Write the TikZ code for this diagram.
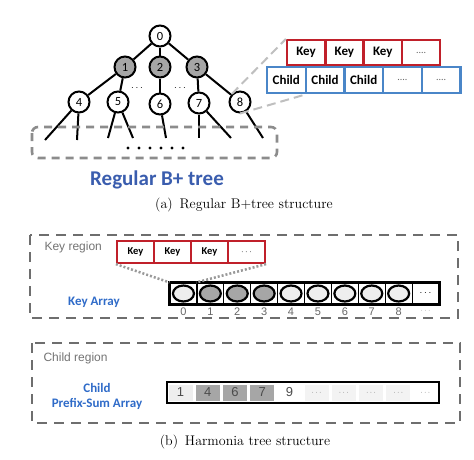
\documentclass[tikz,border=0pt]{standalone}
\usepackage{fontspec}
\usepackage{tikz}
\usetikzlibrary{arrows.meta,positioning,calc,shapes.geometric}
\newfontfamily\cfont{Carlito}
\newfontfamily\lfont{Liberation Sans}
\definecolor{keyred}{HTML}{C0202A}
\definecolor{childblue}{HTML}{4A86C8}
\definecolor{titleblue}{HTML}{3A5DAE}
\definecolor{arrblue}{HTML}{2F6BC8}
\definecolor{regiongray}{HTML}{6E6E6E}
\definecolor{nodegray}{HTML}{A6A6A6}
\definecolor{lightfill}{HTML}{EEEEEE}
\tikzset{
  treenode/.style={circle, draw, line width=2pt, minimum size=21pt, inner sep=0pt,
    fill=white, font=\cfont\fontsize{12.5}{12}\selectfont},
  graynode/.style={treenode, fill=nodegray},
  edge/.style={line width=2pt, black},
  keybox/.style={draw=keyred, line width=2.2pt, minimum width=38pt, minimum height=25pt,
    inner sep=0pt, font=\cfont\bfseries\fontsize{13}{13}\selectfont},
  childbox/.style={keybox, draw=childblue, minimum width=38.6pt, minimum height=26pt},
  dotsbox/.style={font=\cfont\fontsize{10}{10}\selectfont, text=black!60},
  smallkey/.style={keybox, minimum width=37pt, minimum height=22pt,
    font=\cfont\bfseries\fontsize{10.5}{10}\selectfont},
  regionbox/.style={draw=regiongray, line width=2.6pt, dash pattern=on 10pt off 7pt},
  zoomline/.style={draw=black!25, line width=2pt, dash pattern=on 9pt off 5pt},
  dotline/.style={draw=black!40, line width=2.5pt, dash pattern=on 2pt off 2pt},
  caption/.style={font=\fontsize{14}{14}\selectfont},
  regionlabel/.style={text=black!55, font=\lfont\fontsize{12}{12}\selectfont, anchor=west},
  arrlabel/.style={text=arrblue, align=center, font=\cfont\bfseries\fontsize{13}{15}\selectfont},
  keycell/.style={draw, line width=1.2pt, minimum width=26.9pt, minimum height=21pt, inner sep=0pt},
  keyoval/.style={ellipse, draw, line width=2.2pt, fill=lightfill, minimum width=21pt,
    minimum height=16pt, inner sep=0pt},
  sumcell/.style={minimum width=24pt, minimum height=16pt, inner sep=0pt, text=black!70,
    font=\lfont\fontsize{13}{13}\selectfont}
}
\begin{document}
\begin{tikzpicture}[x=1pt,y=-1pt]
  \useasboundingbox (0,0) rectangle (474,459);
  % regular B+ tree
  \node[treenode] (n0) at (160,36) {0};
  \node[graynode] (n1) at (125,67) {1};
  \node[graynode] (n2) at (160,67) {2};
  \node[graynode] (n3) at (197,67) {3};
  \node[treenode] (n4) at (79,102) {4};
  \node[treenode] (n5) at (118,102) {5};
  \node[treenode] (n6) at (160,104) {6};
  \node[treenode] (n7) at (199,103) {7};
  \node[treenode] (n8) at (240,102) {8};
  \node[font=\bfseries] (d1) at (137,88) {$\cdots$};
  \node[font=\bfseries] (d2) at (180,88) {$\cdots$};
  \foreach \a/\b in {n0/n1,n0/n2,n0/n3,n1/n4,n1/n5,n2/n6,n3/n7,n3/n8}
    \draw[edge] (\a) -- (\b);
  \coordinate (l1) at (45,140);  \coordinate (l2) at (77,140);
  \coordinate (l3) at (108,138); \coordinate (l4) at (133,138);
  \coordinate (l5) at (166,138); \coordinate (l6) at (199,138);
  \coordinate (l7) at (231,138); \coordinate (l8) at (263,138);
  \foreach \a/\b in {n4/l1,n4/l2,n5/l3,n5/l4,n6/l5,n7/l6,n7/l7,n8/l8}
    \draw[edge] (\a) -- (\b);
  \draw[draw=black!45, line width=2.6pt, dash pattern=on 8pt off 6pt, rounded corners=6pt]
    (32,127) rectangle (277,158);
  \foreach \i in {0,...,5}
    \fill (128+11*\i,148) circle (1.6pt);
  \node[text=titleblue, font=\cfont\bfseries\fontsize{21}{21}\selectfont] (title) at (157,180) {Regular B+ tree};
  % node layout
  \foreach \k in {1,2,3}
    \node[keybox] (k\k) at (267.6+38.4*\k,52.5) {Key};
  \node[keybox, dotsbox] (k4) at (421.2,52.5) {....};
  \foreach \k in {1,2,3}
    \node[childbox] (c\k) at (247.6+38.7*\k,80) {Child};
  \node[childbox, dotsbox] (c4) at (402.4,80) {....};
  \node[childbox, dotsbox] (c5) at (441.1,80) {....};
  \draw[zoomline] (n8.north west) -- (k1.north west);
  \draw[zoomline] (n8.south) -- (c1.south east);
  \node[caption] (capa) at (244,205) {(a)\, Regular B+tree structure};
  % Harmonia: key region
  \draw[regionbox] (30,235) rectangle (458,318);
  \node[regionlabel] (keyreg) at (41,247) {Key region};
  \foreach \k in {1,2,3}
    \node[smallkey] (s\k) at (98.5+37*\k,252) {Key};
  \node[smallkey, font=\cfont\fontsize{9}{9}\selectfont] (s4) at (246.5,252) {$\cdots$};
  \node[arrlabel] (keyarr) at (94,302) {Key Array};
  \foreach \i in {0,1,2,3,4,5,6,7,8,9}
    \node[keycell] (a\i) at (183.45+26.9*\i,293.5) {};
  \foreach \i in {0,4,5,6,7,8}
    \node[keyoval] (e\i) at (a\i) {};
  \foreach \i in {1,2,3}
    \node[keyoval, fill=nodegray] (e\i) at (a\i) {};
  \node[font=\bfseries] (adots) at (a9) {$\cdots$};
  \draw[line width=2.6pt] (a0.north west) rectangle (a9.south east);
  \foreach \i in {0,1,2,3,4,5,6,7,8}
    \node[text=black!60, font=\lfont\fontsize{11}{11}\selectfont] (ix\i) at (183.45+26.9*\i,311.5) {\i};
  \node[text=black!55, font=\lfont\fontsize{7}{7}\selectfont] (ix9) at (425.5,311) {$\cdots$};
  \draw[dotline] (s1.south west) -- (a0.north west);
  \draw[dotline] (s4.south east) -- (a1.north west);
  % Harmonia: child region
  \draw[regionbox] (32,343) rectangle (460,423);
  \node[regionlabel] (childreg) at (40,358) {Child region};
  \node[arrlabel] (childarr) at (97,396) {Child\\Prefix-Sum Array};
  \draw[line width=2.6pt] (167,382) rectangle (439,403);
  \foreach \v/\f [count=\k from 0] in {1/lightfill,4/nodegray,6/nodegray,7/nodegray,9/white}
    \node[sumcell, fill=\f] (p\k) at (180.6+27.2*\k,392.5) {\v};
  \foreach \k in {5,6,7,8}
    \node[sumcell, fill=lightfill!70, font=\lfont\fontsize{7}{7}\selectfont] (p\k) at (180.6+27.2*\k,392.5) {$\cdots$};
  \node[sumcell, fill=white, font=\lfont\fontsize{7}{7}\selectfont] (p9) at (425.4,392.5) {$\cdots$};
  \node[caption] (capb) at (245,442) {(b)\, Harmonia tree structure};
\end{tikzpicture}
\end{document}
